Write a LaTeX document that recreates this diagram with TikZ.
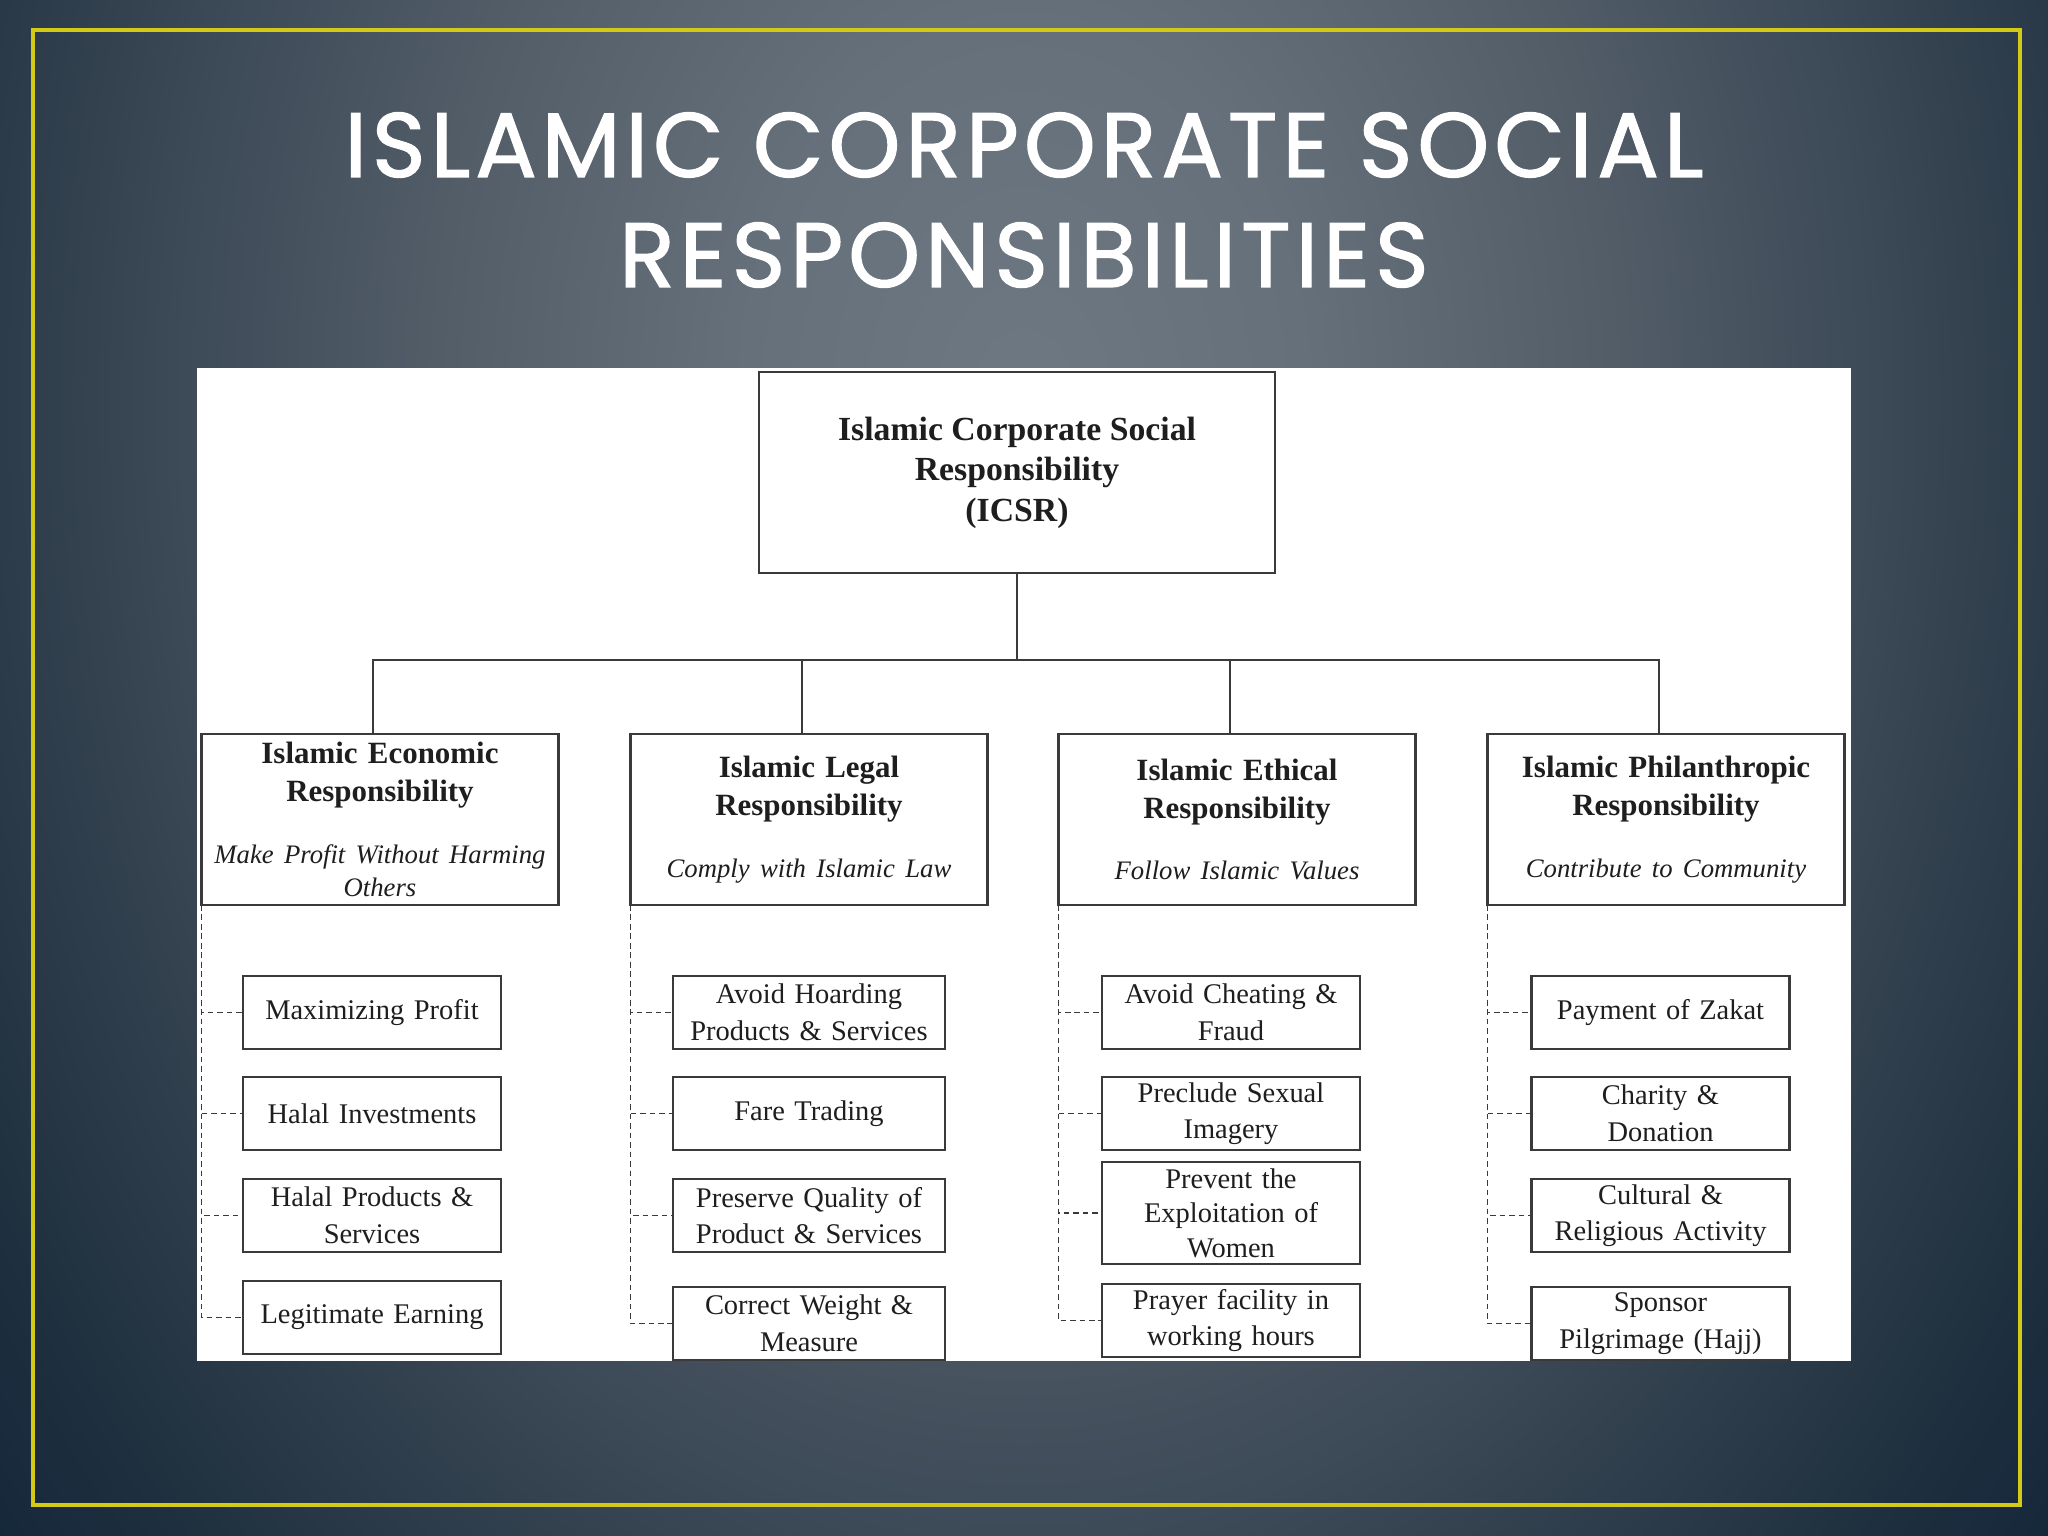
\documentclass[tikz,border=0pt]{standalone}
\usepackage{fontspec}
\setmainfont{Liberation Serif}
\newfontfamily\titlefont[LetterSpace=5.5, FakeBold=1.4]{Poppins}
\usetikzlibrary{positioning}
\definecolor{frameyellow}{HTML}{D2CA16}
\definecolor{boxline}{HTML}{3A3A3A}
\definecolor{boxtext}{HTML}{1E1E1E}
\definecolor{bga}{HTML}{6E7882}
\definecolor{bgb}{HTML}{66707A}
\definecolor{bgc}{HTML}{525D68}
\definecolor{bgd}{HTML}{3D4A57}
\definecolor{bge}{HTML}{2C3B49}
\definecolor{bgf}{HTML}{1F303F}
\definecolor{bgg}{HTML}{14273A}
\pgfdeclareradialshading{slidebg}{\pgfpointorigin}{color(0bp)=(bga); color(5bp)=(bgb); color(10.5bp)=(bgc); color(15bp)=(bgd); color(18.5bp)=(bge); color(21bp)=(bgf); color(24bp)=(bgg); color(50bp)=(bgg)}
\tikzset{
  title/.style={text=white, align=center, font=\titlefont\fontsize{26}{31.3}\selectfont},
  main/.style={draw=boxline, line width=0.8pt, outer sep=0pt, fill=white, text=boxtext, align=center, inner sep=0pt,
    minimum width=5.16cm, minimum height=2.01cm, font=\fontsize{9.6}{11.5}\selectfont\bfseries},
  pillar/.style={draw=boxline, line width=0.8pt, outer sep=0pt, fill=white, text=boxtext, align=center, inner sep=0pt,
    minimum width=3.57cm, minimum height=1.71cm, text width=3.55cm, font=\fontsize{8.8}{10.8}\selectfont},
  item/.style={draw=boxline, line width=0.8pt, outer sep=0pt, fill=white, text=boxtext, align=center, inner sep=0pt,
    minimum width=2.58cm, minimum height=0.73cm, text width=2.5cm, font=\fontsize{8.1}{10.4}\selectfont},
  link/.style={draw=boxline, line width=0.7pt},
  dashlink/.style={draw=boxline, line width=0.55pt, dash pattern=on 1.6pt off 1.1pt},
  elbow/.style={to path={|- (\tikztotarget.west)}}
}
\newcommand{\sub}[1]{\\[6.8pt]\mdseries\itshape\fontsize{7.6}{10.8}\selectfont #1}

\begin{document}
\begin{tikzpicture}
\useasboundingbox (0,0) rectangle (20.48,-15.36);
\clip (0,0) rectangle (20.48,-15.36);
% slide background
\begin{scope}[shift={(10.24,-4)}, yscale=1.35]
  \shade[shading=slidebg] (-14,-14) rectangle (14,14);
\end{scope}
\draw[frameyellow, line width=1.3pt] (0.33,-0.30) rectangle (20.20,-15.05);
\fill[white] (1.97,-3.68) rectangle (18.51,-13.61);
\node[title] (title) at (10.24,-2.00) {ISLAMIC CORPORATE SOCIAL\\RESPONSIBILITIES};

% chart
\node[main] (icsr) at (10.17,-4.725) {Islamic Corporate Social\\Responsibility\\(ICSR)};
\coordinate (bus) at (10.17,-6.60);

\node[pillar] (eco) at (3.80,-8.195) {\bfseries Islamic Economic\\Responsibility\sub{Make Profit Without Harming\\[-1.4pt]Others}};
\node[pillar] (leg) [right=0.72cm of eco] {\bfseries Islamic Legal\\Responsibility\sub{Comply with Islamic Law}};
\node[pillar] (eth) [right=0.71cm of leg] {\bfseries Islamic Ethical\\Responsibility\sub{Follow Islamic Values}};
\node[pillar] (phi) [right=0.72cm of eth] {\bfseries Islamic Philanthropic\\Responsibility\sub{Contribute to Community}};

\node[item] (eco_1) [below=0.71cm of eco, xshift=-0.8mm] {Maximizing Profit};
\node[item] (eco_2) [below=0.28cm of eco_1] {Halal Investments};
\node[item] (eco_3) [below=0.29cm of eco_2] {Halal Products \&\\Services};
\node[item] (eco_4) [below=0.29cm of eco_3] {Legitimate Earning};

\node[item, minimum width=2.72cm] (leg_1) [below=0.71cm of leg] {Avoid Hoarding\\Products \& Services};
\node[item, minimum width=2.72cm] (leg_2) [below=0.28cm of leg_1] {Fare Trading};
\node[item, minimum width=2.72cm] (leg_3) [below=0.29cm of leg_2] {Preserve Quality of\\Product \& Services};
\node[item, minimum width=2.72cm] (leg_4) [below=0.35cm of leg_3] {Correct Weight \&\\Measure};

\node[item] (eth_1) [below=0.71cm of eth, xshift=-0.6mm] {Avoid Cheating \&\\Fraud};
\node[item] (eth_2) [below=0.28cm of eth_1] {Preclude Sexual\\Imagery};
\node[item, minimum height=1.02cm, font=\fontsize{8.1}{9.8}\selectfont] (eth_3) [below=0.12cm of eth_2] {Prevent the\\Exploitation of\\Women};
\node[item] (eth_4) [below=0.20cm of eth_3] {Prayer facility in\\working hours};

\node[item] (phi_1) [below=0.71cm of phi, xshift=-0.55mm] {Payment of Zakat};
\node[item] (phi_2) [below=0.28cm of phi_1] {Charity \&\\Donation};
\node[item] (phi_3) [below=0.29cm of phi_2] {Cultural \&\\Religious Activity};
\node[item] (phi_4) [below=0.35cm of phi_3] {Sponsor\\Pilgrimage (Hajj)};

\draw[link] (icsr.south) -- (bus);
\draw[link] ([xshift=-0.7mm]eco.north) |- (bus) -| ([xshift=-0.7mm]phi.north);
\draw[link] ([xshift=-0.7mm]leg.north) -- ([xshift=-0.7mm]leg.north |- bus);
\draw[link] ([xshift=-0.7mm]eth.north) -- ([xshift=-0.7mm]eth.north |- bus);

\path[dashlink] (eco.south west) edge[elbow] (eco_1) edge[elbow] (eco_2) edge[elbow] (eco_3) edge[elbow] (eco_4);
\path[dashlink] (leg.south west) edge[elbow] (leg_1) edge[elbow] (leg_2) edge[elbow] (leg_3) edge[elbow] (leg_4);
\path[dashlink] (eth.south west) edge[elbow] (eth_1) edge[elbow] (eth_2) edge[elbow] (eth_3) edge[elbow] (eth_4);
\path[dashlink] (phi.south west) edge[elbow] (phi_1) edge[elbow] (phi_2) edge[elbow] (phi_3) edge[elbow] (phi_4);
\end{tikzpicture}
\end{document}
